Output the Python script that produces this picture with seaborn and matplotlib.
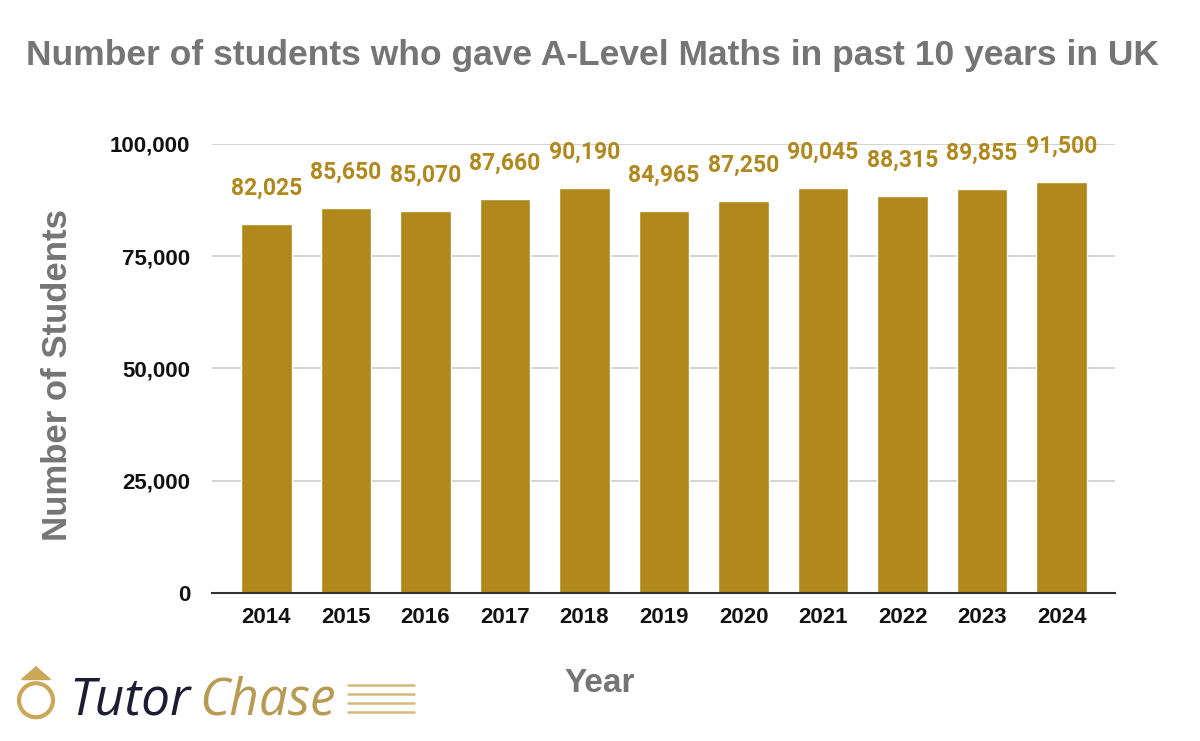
import matplotlib
matplotlib.use("Agg")
import matplotlib.pyplot as plt
import seaborn as sns
import pandas as pd
from matplotlib.patches import Ellipse, Polygon

years = ["2014", "2015", "2016", "2017", "2018", "2019", "2020", "2021", "2022", "2023", "2024"]
students = [82025, 85650, 85070, 87660, 90190, 84965, 87250, 90045, 88315, 89855, 91500]

gold = "#B0881C"
grey = "#757575"

df = pd.DataFrame({"Year": years, "Students": students})

sns.set_theme(style="white")
plt.rcParams["font.family"] = ["Liberation Sans", "DejaVu Sans"]

fig = plt.figure(figsize=(12, 7.41), dpi=100)
ax = fig.add_axes([0.177, 0.2, 0.752, 0.606])

sns.barplot(data=df, x="Year", y="Students", color=gold, width=0.63,
            saturation=1, ax=ax, zorder=3)

ax.set_ylim(0, 100000)
ax.set_xlim(-0.68, 10.67)
ticks = [0, 25000, 50000, 75000, 100000]
ax.set_yticks(ticks)
ax.set_yticklabels([f"{t:,}" for t in ticks])
ax.yaxis.grid(True, color="#cccccc", linewidth=1.2, zorder=0)
ax.set_axisbelow(True)
for side in ["top", "right", "left"]:
    ax.spines[side].set_visible(False)
ax.spines["bottom"].set_color("#333333")
ax.spines["bottom"].set_linewidth(1.5)
ax.spines["bottom"].set_zorder(4)
ax.tick_params(axis="both", length=0, labelsize=16, labelcolor="#111111")
ax.tick_params(axis="y", pad=16)
ax.tick_params(axis="x", pad=10)
for lab in ax.get_xticklabels() + ax.get_yticklabels():
    lab.set_fontweight("bold")

# value labels above each bar
for i, v in enumerate(students):
    ax.text(i, v + 8000, f"{v:,}", ha="center", va="center", color=gold,
            fontsize=16.5, fontweight="semibold", family=["Roboto", "DejaVu Sans"],
            clip_on=False)

ax.set_xlabel("")
ax.set_ylabel("")
fig.text(58 / 1200, 1 - 375 / 741, "Number of Students", rotation=90, ha="center",
         va="center", fontsize=25, fontweight="bold", color=grey)
fig.text(0.5, 0.078, "Year", ha="center", va="center", fontsize=24,
         fontweight="bold", color=grey)

fig.text(0.494, 0.925, "Number of students who gave A-Level Maths in past 10 years in UK",
         ha="center", va="center", fontsize=25.5, fontweight="bold", color=grey)

# logo
ring = "#c9a85a"
fig.add_artist(Ellipse((0.03, 0.055), 34 / 1200, 34 / 741, transform=fig.transFigure,
                       fill=False, edgecolor=ring, linewidth=3))
fig.add_artist(Polygon([[0.018, 0.083], [0.03, 0.1], [0.042, 0.083]], closed=True,
                       transform=fig.transFigure, color=ring))
fig.text(0.058, 0.054, "Tutor", fontsize=37, style="italic", fontweight="medium",
         color="#1c1c33", family=["Open Sans", "DejaVu Sans"], va="center", ha="left")
fig.text(0.166, 0.054, "Chase", fontsize=37, style="italic", color="#b89a52",
         family=["Open Sans", "DejaVu Sans"], va="center", ha="left")
for yy in [0.075, 0.063, 0.051, 0.039]:
    fig.add_artist(plt.Line2D([0.29, 0.345], [yy, yy], transform=fig.transFigure,
                              color=ring, linewidth=1.8, alpha=0.8))

fig.savefig("out.png", dpi=100, facecolor="white")
